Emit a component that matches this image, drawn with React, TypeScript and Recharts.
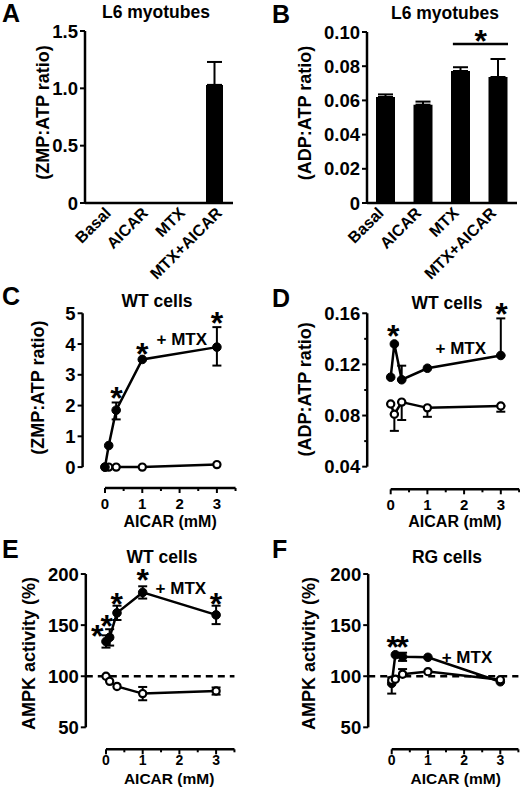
import {
  ComposedChart,
  Bar,
  Line,
  Scatter,
  XAxis,
  YAxis,
  ErrorBar,
  ReferenceLine,
  ReferenceDot,
} from 'recharts'

const FONT = '"Liberation Sans", Arial, Helvetica, sans-serif'

// L6 myotubes
const groups = ['Basal', 'AICAR', 'MTX', 'MTX+AICAR']
const zmpRatio = [0, 0, 0, 1.03]
const zmpErr = [0, 0, 0, 0.2]
const adpRatio = [0.062, 0.0575, 0.0772, 0.0737]
const adpErr = [0.0015, 0.0018, 0.0022, 0.0105]
const zmpTicks = [0, 0.5, 1, 1.5]
const zmpTickLabels = ['0', '0.5', '1.0', '1.5']
const adpTicks = [0, 0.02, 0.04, 0.06, 0.08, 0.1]
const adpTickLabels = ['0', '0.02', '0.04', '0.06', '0.08', '0.10']
const adpSigStar = [{ x: 3.03, y: 0.0982 }]

// AICAR dose-response (mM), filled = + MTX, open = vehicle
const doses = [0, 0.1, 0.3, 1, 3]
const doseTicks = [0, 0.5, 1, 1.5, 2, 2.5, 3, 3.5]
const doseTickLabels = ['0', '', '1', '', '2', '', '3', '']

type Err = [number, number] | null

const wtZmpMtx = [0, 0.7, 1.85, 3.5, 3.9]
const wtZmpMtxErr: Err[] = [null, null, [0.3, 0.25], null, [0.6, 0.65]]
const wtZmpCtl = [0, 0, 0, 0, 0.08]
const wtZmpCtlErr: Err[] = [null, null, null, null, null]
const wtZmpStars = [{ x: 0.31, y: 2.45 }, { x: 1, y: 3.87 }, { x: 3, y: 4.89 }]
const wtZmpTicks = [0, 1, 2, 3, 4, 5]
const wtZmpTickLabels = ['0', '1', '2', '3', '4', '5']

const wtAdpMtx = [0.11, 0.136, 0.108, 0.117, 0.127]
const wtAdpMtxErr: Err[] = [null, null, [0, 0.011], null, [0, 0.029]]
const wtAdpCtl = [0.089, 0.081, 0.0905, 0.086, 0.0875]
const wtAdpCtlErr: Err[] = [null, [0.013, 0], [0.014, 0], [0.007, 0], [0.0045, 0]]
const wtAdpStars = [{ x: 0.07, y: 0.147 }, { x: 3.02, y: 0.164 }]
const wtAdpTicks = [0.04, 0.06, 0.08, 0.1, 0.12, 0.14, 0.16]
const wtAdpTickLabels = ['0.04', '', '0.08', '', '0.12', '', '0.16']

const wtAmpkMtx = [134, 138, 162, 182, 160]
const wtAmpkMtxErr: Err[] = [[6, 6], [8, 8], [7, 7], [6, 6], [9, 9]]
const wtAmpkCtl = [100, 95, 90, 83, 85.5]
const wtAmpkCtlErr: Err[] = [null, null, null, [6.5, 6.5], [3.5, 3.5]]
const wtAmpkStars = [
  { x: -0.24, y: 145 },
  { x: 0.02, y: 155 },
  { x: 0.29, y: 177 },
  { x: 1, y: 200 },
  { x: 3, y: 177 },
]

const rgAmpkMtx = [93, 121, 119, 118.5, 94.6]
const rgAmpkMtxErr: Err[] = [[10, 6], null, [4, 4], null, null]
const rgAmpkCtl = [96, 97, 102, 104.5, 96.5]
const rgAmpkCtlErr: Err[] = [null, null, [0, 5], null, null]
const rgAmpkStars = [{ x: 0.03, y: 134 }, { x: 0.3, y: 134 }]

const ampkTicks = [50, 100, 150, 200]
const ampkTickLabels = ['50', '100', '150', '200']

const txt = { fontFamily: FONT, fontWeight: 'bold' as const, fill: '#000' }

const YTick = (props: any) => {
  const { x, y, labels } = props
  const i = props.index ?? props.payload?.index ?? 0
  const label = labels[i]
  const len = label === '' ? 3 : 5
  return (
    <g>
      <line x1={x - len} x2={x} y1={y} y2={y} stroke="#000" strokeWidth={2} />
      {label !== '' && (
        <text x={x - 7} y={y} dy="0.36em" textAnchor="end" fontSize={18.5} {...txt}>
          {label}
        </text>
      )}
    </g>
  )
}

const XTick = (props: any) => {
  const { x, y, labels, labelDy, size } = props
  const i = props.index ?? props.payload?.index ?? 0
  const label = labels[i]
  const len = label === '' ? 3 : 5
  return (
    <g>
      <line x1={x} x2={x} y1={y} y2={y + len} stroke="#000" strokeWidth={2} />
      {label !== '' && (
        <text x={x} y={y + labelDy} textAnchor="middle" fontSize={size} {...txt}>
          {label}
        </text>
      )}
    </g>
  )
}

const CatTick = (props: any) => {
  const { x, y, payload, shift } = props
  const tx = x + shift
  const ty = y + 11
  return (
    <text x={tx} y={ty} textAnchor="end" fontSize={16} transform={`rotate(-45 ${tx} ${ty})`} {...txt}>
      {payload.value}
    </text>
  )
}

const StarShape = (props: any) => (
  <text x={props.cx} y={props.cy + 17} textAnchor="middle" fontSize={32} {...txt}>
    *
  </text>
)

const axisStroke = { stroke: '#000', strokeWidth: 2.5 }

function yTitle(value: string, x: number, dy: number) {
  return {
    value,
    angle: -90,
    position: 'insideLeft' as const,
    offset: x,
    dy,
    fontSize: 18,
    ...txt,
    style: { textAnchor: 'middle' as const },
  }
}

type BarPanelProps = {
  left: number
  width: number
  marginTop: number
  marginRight: number
  yAxisWidth: number
  values: number[]
  errors: number[]
  yMax: number
  ticks: number[]
  tickLabels: string[]
  title: string
  titleX: number
  titleDy: number
  barSize: number
  labelShift: number
  sig?: boolean
}

function BarPanel(p: BarPanelProps) {
  const rows = groups.map((name, i) => ({ name, v: p.values[i], e: [0, p.errors[i]] }))
  return (
    <div style={{ position: 'absolute', left: p.left, top: 0 }}>
      <ComposedChart
        width={p.width}
        height={290}
        data={rows}
        margin={{ top: p.marginTop, right: p.marginRight, bottom: 0, left: 0 }}
      >
        <XAxis
          xAxisId="cat"
          dataKey="name"
          type="category"
          axisLine={axisStroke}
          tickLine={false}
          tickSize={0}
          tickMargin={0}
          interval={0}
          height={87}
          tick={<CatTick shift={p.labelShift} />}
        />
        <XAxis xAxisId="num" dataKey="x" type="number" domain={[0, 4]} allowDataOverflow hide />
        <YAxis
          type="number"
          domain={[0, p.yMax]}
          ticks={p.ticks}
          interval={0}
          axisLine={axisStroke}
          tickLine={false}
          tickSize={0}
          tickMargin={0}
          width={p.yAxisWidth}
          tick={<YTick labels={p.tickLabels} />}
          label={yTitle(p.title, p.titleX, p.titleDy)}
        />
        <Bar xAxisId="cat" dataKey="v" fill="#000" barSize={p.barSize} isAnimationActive={false}>
          <ErrorBar dataKey="e" direction="y" width={7.5} stroke="#000" strokeWidth={2} />
        </Bar>
        {p.sig && (
          <ReferenceLine
            xAxisId="num"
            segment={[{ x: 2.29, y: 0.093 }, { x: 3.76, y: 0.093 }]}
            stroke="#000"
            strokeWidth={2.5}
          />
        )}
        {p.sig && (
          <Scatter xAxisId="num" data={adpSigStar} dataKey="y" shape={StarShape} isAnimationActive={false} />
        )}
      </ComposedChart>
    </div>
  )
}

type LinePanelProps = {
  left: number
  top: number
  width: number
  height: number
  marginTop: number
  marginRight: number
  yAxisWidth: number
  xAxisHeight: number
  xDomain: [number, number]
  yDomain: [number, number]
  yLine: [number, number]
  yTicks: number[]
  yTickLabels: string[]
  title: string
  titleX: number
  titleDy: number
  xTickDy: number
  xTickSize: number
  xTitleSize: number
  xTitleDx: number
  xTitleOffset: number
  mtx: number[]
  mtxErr: Err[]
  ctl: number[]
  ctlErr: Err[]
  stars: { x: number; y: number }[]
  mtxAt: { x: number; y: number }
  baseline?: number
  openOnTop?: boolean
}

function LinePanel(p: LinePanelProps) {
  const rows = doses.map((x, i) => ({
    x,
    mtx: p.mtx[i],
    mtxErr: p.mtxErr[i],
    ctl: p.ctl[i],
    ctlErr: p.ctlErr[i],
  }))
  const filled = (
    <Line
      key="mtx"
      dataKey="mtx"
      stroke="#000"
      strokeWidth={2.5}
      dot={{ r: 4.3, fill: '#000', stroke: '#000', strokeWidth: 1 }}
      activeDot={false}
      isAnimationActive={false}
    >
      <ErrorBar dataKey="mtxErr" direction="y" width={4.5} stroke="#000" strokeWidth={2} />
    </Line>
  )
  const open = (
    <Line
      key="ctl"
      dataKey="ctl"
      stroke="#000"
      strokeWidth={2.5}
      dot={{ r: 3.6, fill: '#fff', stroke: '#000', strokeWidth: 2.2 }}
      activeDot={false}
      isAnimationActive={false}
    >
      <ErrorBar dataKey="ctlErr" direction="y" width={4.5} stroke="#000" strokeWidth={2} />
    </Line>
  )
  const [x0, x1] = p.xDomain
  const [y0] = p.yDomain
  return (
    <div style={{ position: 'absolute', left: p.left, top: p.top }}>
      <ComposedChart
        width={p.width}
        height={p.height}
        data={rows}
        margin={{ top: p.marginTop, right: p.marginRight, bottom: 0, left: 0 }}
      >
        <XAxis
          dataKey="x"
          type="number"
          domain={p.xDomain}
          allowDataOverflow
          ticks={doseTicks}
          interval={0}
          axisLine={false}
          tickLine={false}
          tickSize={0}
          tickMargin={0}
          height={p.xAxisHeight}
          tick={<XTick labels={doseTickLabels} labelDy={p.xTickDy} size={p.xTickSize} />}
          label={{
            value: 'AICAR (mM)',
            position: 'insideBottom',
            offset: p.xTitleOffset,
            dx: p.xTitleDx,
            fontSize: p.xTitleSize,
            ...txt,
          }}
        />
        <YAxis
          type="number"
          domain={p.yDomain}
          allowDataOverflow
          ticks={p.yTicks}
          interval={0}
          axisLine={false}
          tickLine={false}
          tickSize={0}
          tickMargin={0}
          width={p.yAxisWidth}
          tick={<YTick labels={p.yTickLabels} />}
          label={yTitle(p.title, p.titleX, p.titleDy)}
        />
        {p.baseline !== undefined && (
          <ReferenceLine
            segment={[{ x: x0, y: p.baseline }, { x: x1, y: p.baseline }]}
            stroke="#000"
            strokeWidth={2.5}
            strokeDasharray="7 5"
            ifOverflow="visible"
          />
        )}
        <ReferenceLine
          segment={[{ x: x0, y: p.yLine[0] }, { x: x0, y: p.yLine[1] }]}
          stroke="#000"
          strokeWidth={2.5}
          ifOverflow="visible"
        />
        <ReferenceLine
          segment={[{ x: 0, y: y0 }, { x: x1, y: y0 }]}
          stroke="#000"
          strokeWidth={2.5}
          ifOverflow="visible"
        />
        {p.openOnTop ? [filled, open] : [open, filled]}
        <Scatter data={p.stars} dataKey="y" shape={StarShape} isAnimationActive={false} />
        <ReferenceDot
          x={p.mtxAt.x}
          y={p.mtxAt.y}
          r={1}
          fill="none"
          stroke="none"
          label={{ value: '+ MTX', position: 'center', fontSize: 17, ...txt }}
        />
      </ComposedChart>
    </div>
  )
}

const letters = [
  { t: 'A', x: 2, y: 22 },
  { t: 'B', x: 272, y: 23 },
  { t: 'C', x: 2, y: 305 },
  { t: 'D', x: 272, y: 307 },
  { t: 'E', x: 2, y: 558 },
  { t: 'F', x: 272, y: 558 },
]

const titles = [
  { t: 'L6 myotubes', x: 156, y: 18 },
  { t: 'L6 myotubes', x: 445, y: 19 },
  { t: 'WT cells', x: 157, y: 307 },
  { t: 'WT cells', x: 447, y: 308.5 },
  { t: 'WT cells', x: 162, y: 563 },
  { t: 'RG cells', x: 447, y: 563 },
]

export default function App() {
  return (
    <div style={{ position: 'absolute', left: 0, top: 0, width: 520, height: 789, background: '#fff' }}>
      <svg width={520} height={789} style={{ position: 'absolute', left: 0, top: 0 }}>
        {letters.map((l) => (
          <text key={l.t} x={l.x} y={l.y} fontSize={25} {...txt}>
            {l.t}
          </text>
        ))}
        {titles.map((l, i) => (
          <text key={i} x={l.x} y={l.y} textAnchor="middle" fontSize={17.5} {...txt}>
            {l.t}
          </text>
        ))}
      </svg>

      <BarPanel
        left={0}
        width={245}
        marginTop={31}
        marginRight={12}
        yAxisWidth={85}
        values={zmpRatio}
        errors={zmpErr}
        yMax={1.5}
        ticks={zmpTicks}
        tickLabels={zmpTickLabels}
        title="(ZMP:ATP ratio)"
        titleX={42.5}
        titleDy={-4.5}
        barSize={17}
        labelShift={8.5}
      />
      <BarPanel
        left={260}
        width={260}
        marginTop={32}
        marginRight={3}
        yAxisWidth={107}
        values={adpRatio}
        errors={adpErr}
        yMax={0.1}
        ticks={adpTicks}
        tickLabels={adpTickLabels}
        title="(ADP:ATP ratio)"
        titleX={45}
        titleDy={-4.5}
        barSize={19}
        labelShift={-1}
        sig
      />

      <LinePanel
        left={0}
        top={290}
        width={250}
        height={245}
        marginTop={7.9}
        marginRight={14.45}
        yAxisWidth={82.6}
        xAxisHeight={47}
        xDomain={[-0.6, 3.5]}
        yDomain={[-0.68, 5.5]}
        yLine={[0, 5]}
        yTicks={wtZmpTicks}
        yTickLabels={wtZmpTickLabels}
        title="(ZMP:ATP ratio)"
        titleX={37.7}
        titleDy={-5.3}
        xTickDy={21}
        xTickSize={15}
        xTitleSize={16}
        xTitleDx={11}
        xTitleOffset={8}
        mtx={wtZmpMtx}
        mtxErr={wtZmpMtxErr}
        ctl={wtZmpCtl}
        ctlErr={wtZmpCtlErr}
        stars={wtZmpStars}
        mtxAt={{ x: 2.06, y: 4.18 }}
      />
      <LinePanel
        left={260}
        top={290}
        width={260}
        height={245}
        marginTop={4.1}
        marginRight={0.85}
        yAxisWidth={107.2}
        xAxisHeight={45.7}
        xDomain={[-0.64, 3.5]}
        yDomain={[0.0223, 0.175]}
        yLine={[0.04, 0.16]}
        yTicks={wtAdpTicks}
        yTickLabels={wtAdpTickLabels}
        title="(ADP:ATP ratio)"
        titleX={45}
        titleDy={-2.4}
        xTickDy={21}
        xTickSize={15}
        xTitleSize={16}
        xTitleDx={11.8}
        xTitleOffset={8}
        mtx={wtAdpMtx}
        mtxErr={wtAdpMtxErr}
        ctl={wtAdpCtl}
        ctlErr={wtAdpCtlErr}
        stars={wtAdpStars}
        mtxAt={{ x: 1.91, y: 0.1326 }}
      />
      <LinePanel
        left={0}
        top={550}
        width={250}
        height={239}
        marginTop={8.7}
        marginRight={15.55}
        yAxisWidth={85.8}
        xAxisHeight={39.7}
        xDomain={[-0.55, 3.5]}
        yDomain={[28.5, 215]}
        yLine={[50, 200]}
        yTicks={ampkTicks}
        yTickLabels={ampkTickLabels}
        title="AMPK activity (%)"
        titleX={28.3}
        titleDy={-0.4}
        xTickDy={16}
        xTickSize={14}
        xTitleSize={15.5}
        xTitleDx={9}
        xTitleOffset={5.5}
        mtx={wtAmpkMtx}
        mtxErr={wtAmpkMtxErr}
        ctl={wtAmpkCtl}
        ctlErr={wtAmpkCtlErr}
        stars={wtAmpkStars}
        mtxAt={{ x: 2.04, y: 186 }}
        baseline={100}
      />
      <LinePanel
        left={260}
        top={550}
        width={260}
        height={239}
        marginTop={8.7}
        marginRight={1.6}
        yAxisWidth={108.2}
        xAxisHeight={39.7}
        xDomain={[-0.65, 3.5]}
        yDomain={[28.5, 215]}
        yLine={[50, 200]}
        yTicks={ampkTicks}
        yTickLabels={ampkTickLabels}
        title="AMPK activity (%)"
        titleX={49}
        titleDy={-0.4}
        xTickDy={16}
        xTickSize={14}
        xTitleSize={15.5}
        xTitleDx={12.4}
        xTitleOffset={5.5}
        mtx={rgAmpkMtx}
        mtxErr={rgAmpkMtxErr}
        ctl={rgAmpkCtl}
        ctlErr={rgAmpkCtlErr}
        stars={rgAmpkStars}
        mtxAt={{ x: 2.08, y: 119 }}
        baseline={100}
        openOnTop
      />
    </div>
  )
}
